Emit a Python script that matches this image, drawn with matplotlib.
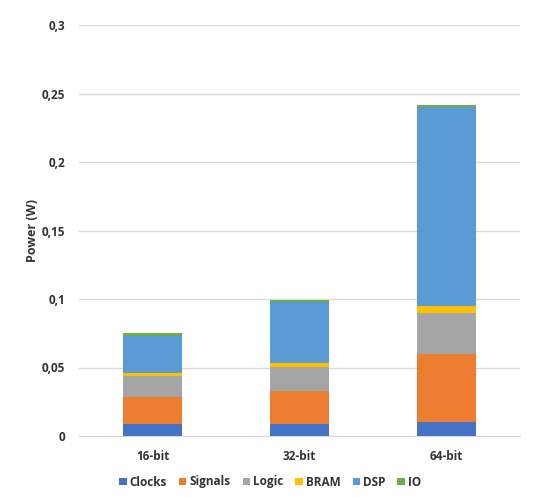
import matplotlib
matplotlib.use("Agg")
import matplotlib.pyplot as plt
import numpy as np
from matplotlib.ticker import FuncFormatter

# power breakdown per datapath width (W)
categories = ["16-bit", "32-bit", "64-bit"]
components = ["Clocks", "Signals", "Logic", "BRAM", "DSP", "IO"]
clocks = [0.009, 0.0085, 0.0105]
signals = [0.0197, 0.0243, 0.0494]
logic = [0.0151, 0.0173, 0.0297]
bram = [0.0019, 0.0034, 0.0053]
dsp = [0.027, 0.044, 0.145]
io = [0.0025, 0.0019, 0.0015]
colors = ["#4472C4", "#ED7D31", "#A5A5A5", "#FFC000", "#5B9BD5", "#70AD47"]

plt.rcParams["font.family"] = ["Open Sans", "DejaVu Sans"]
txt = "#333333"

fig = plt.figure(figsize=(5.5, 4.97), dpi=100)
ax = fig.add_axes([79/550, 1-436/497, 441/550, 411/497])

x = np.arange(len(categories))
bottom = np.zeros(len(categories))
for name, vals, c in zip(components, [clocks, signals, logic, bram, dsp, io], colors):
    ax.bar(x, vals, 0.395, bottom=bottom, color=c, label=name, zorder=3)
    bottom += np.array(vals)

ax.set_xlim(-0.5, 2.5)
ax.set_ylim(0, 0.3)
ax.set_yticks(np.arange(0, 0.301, 0.05))
ax.yaxis.set_major_formatter(FuncFormatter(lambda v, p: ("%g" % round(v, 2)).replace(".", ",")))
ax.set_xticks(x)
ax.set_xticklabels(categories)
ax.grid(axis="y", color="#D9D9D9", lw=1, zorder=0)
for s in ["top", "right", "left"]:
    ax.spines[s].set_visible(False)
ax.spines["bottom"].set_color("#D9D9D9")
ax.tick_params(length=0, labelsize=8.5, colors=txt)
ax.tick_params(axis="y", pad=10)
ax.tick_params(axis="x", pad=10)
for lab in ax.get_xticklabels() + ax.get_yticklabels():
    lab.set_fontweight("bold")
ax.set_ylabel("Power (W)", fontsize=9, fontweight="bold", color=txt, labelpad=2)

fig.legend(loc="center", bbox_to_anchor=(0.491, 1-482/497), ncol=6, frameon=False,
           handlelength=0.6, handleheight=0.6, handletextpad=0.25, columnspacing=1.05,
           prop={"size": 8.5, "weight": "bold"}, labelcolor=txt)

fig.savefig("out.png", dpi=100)
